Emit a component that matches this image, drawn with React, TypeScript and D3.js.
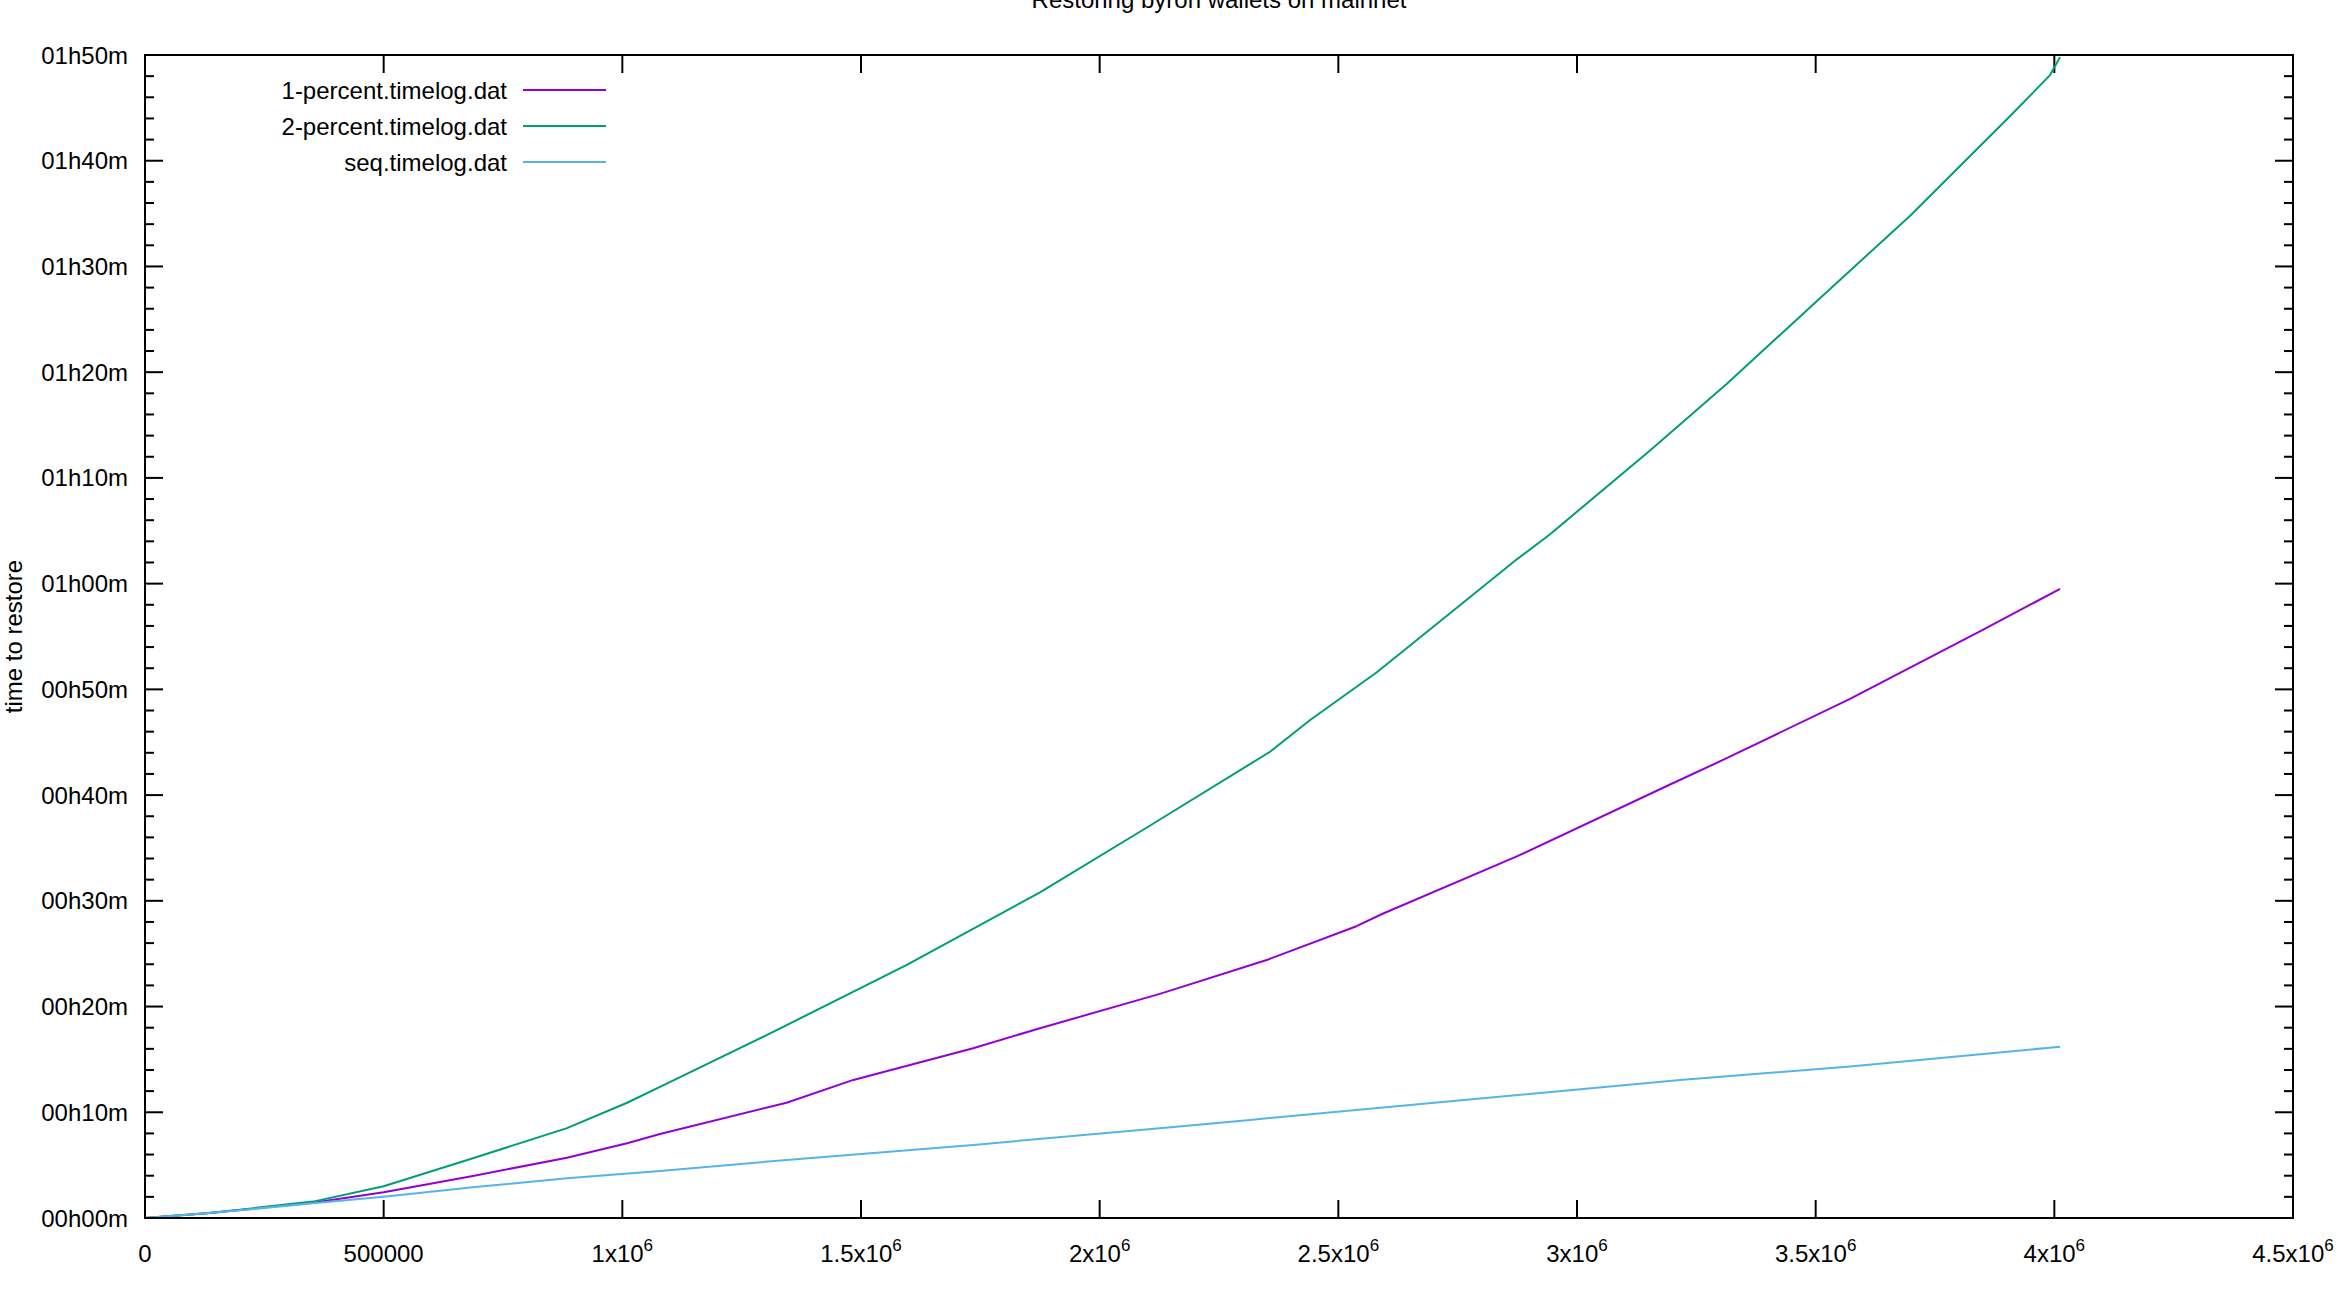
import React from 'react';
import * as d3 from 'd3';

// blocks restored (x) vs elapsed minutes (y)
const onePctX = [0, 129000, 352000, 500000, 687000, 884000, 1010000, 1079000, 1344000, 1484000, 1735000, 1875000, 2126000, 2350000, 2538000, 2594000, 2874000, 3195000, 3307000, 3572000, 3851000, 4012000];
const onePctY = [0, 0.44, 1.45, 2.43, 3.98, 5.7, 7.07, 7.95, 10.9, 13.06, 16.06, 17.95, 21.2, 24.4, 27.6, 28.8, 34.2, 41.0, 43.35, 49.1, 55.66, 59.5];

const twoPctX = [0, 129000, 352000, 500000, 687000, 884000, 1010000, 1079000, 1316000, 1596000, 1875000, 2105000, 2357000, 2441000, 2580000, 2734000, 2874000, 2943000, 3153000, 3314000, 3509000, 3698000, 3907000, 3991000, 4012000];
const twoPctY = [0, 0.44, 1.55, 3.0, 5.65, 8.5, 10.9, 12.4, 17.6, 23.95, 30.8, 37.1, 44.1, 47.1, 51.6, 57.2, 62.3, 64.65, 72.6, 78.9, 87.0, 94.8, 104.2, 108.1, 109.8];

const seqX = [0, 129000, 352000, 500000, 687000, 884000, 1079000, 1344000, 1735000, 2126000, 2315000, 3216000, 3572000, 4012000];
const seqY = [0, 0.44, 1.39, 2.02, 2.9, 3.75, 4.45, 5.49, 6.91, 8.49, 9.28, 13.06, 14.32, 16.2];

const seriesNames = ['1-percent.timelog.dat', '2-percent.timelog.dat', 'seq.timelog.dat'];
const seriesColors = ['#9400d3', '#009e73', '#56b4e9'];

const xTicks = [0, 500000, 1000000, 1500000, 2000000, 2500000, 3000000, 3500000, 4000000, 4500000];
const yTicks = [0, 10, 20, 30, 40, 50, 60, 70, 80, 90, 100, 110];

const W = 2338;
const H = 1290;
const margin = { top: 55, right: 45, bottom: 72, left: 145 };
const FONT = '"Liberation Sans", Arial, Helvetica, sans-serif';
const FS = 24;

const fmtTime = (m: number) => {
  const h = Math.floor(m / 60);
  const mm = m % 60;
  return `${String(h).padStart(2, '0')}h${String(mm).padStart(2, '0')}m`;
};

const XLabel = ({ v }: { v: number }) => {
  if (v < 1e6) return <>{String(v)}</>;
  const mant = v / 1e6;
  return (
    <>
      {`${mant}x10`}
      <tspan dy={-11} fontSize={17}>6</tspan>
    </>
  );
};

export default function App() {
  const x0 = margin.left;
  const x1 = W - margin.right;
  const y0 = H - margin.bottom;
  const y1 = margin.top;

  const x = d3.scaleLinear().domain([0, 4500000]).range([x0, x1]);
  const y = d3.scaleLinear().domain([0, 110]).range([y0, y1]);

  const series = [
    { xs: onePctX, ys: onePctY },
    { xs: twoPctX, ys: twoPctY },
    { xs: seqX, ys: seqY },
  ];

  const line = d3
    .line<[number, number]>()
    .x((d) => x(d[0]))
    .y((d) => y(d[1]));

  const minorY = d3.range(0, 111, 2).filter((m) => m % 10 !== 0);
  const majorLen = 18;
  const minorLen = 9;

  return (
    <svg
      width={W}
      height={H}
      style={{ position: 'absolute', left: 0, top: 0, background: '#fff' }}
      fontFamily={FONT}
      fontSize={FS}
    >
      <rect width={W} height={H} fill="#fff" />

      {/* ticks */}
      <g stroke="#000" strokeWidth={2}>
        {yTicks.map((t) => (
          <g key={`ym${t}`}>
            <line x1={x0} x2={x0 + majorLen} y1={y(t)} y2={y(t)} />
            <line x1={x1} x2={x1 - majorLen} y1={y(t)} y2={y(t)} />
          </g>
        ))}
        {minorY.map((t) => (
          <g key={`yn${t}`}>
            <line x1={x0} x2={x0 + minorLen} y1={y(t)} y2={y(t)} />
            <line x1={x1} x2={x1 - minorLen} y1={y(t)} y2={y(t)} />
          </g>
        ))}
        {xTicks.map((t) => (
          <g key={`xm${t}`}>
            <line x1={x(t)} x2={x(t)} y1={y0} y2={y0 - majorLen} />
            <line x1={x(t)} x2={x(t)} y1={y1} y2={y1 + majorLen} />
          </g>
        ))}
      </g>

      {/* tick labels */}
      {yTicks.map((t) => (
        <text key={`yl${t}`} x={x0 - 17} y={y(t)} textAnchor="end" dominantBaseline="central">
          {fmtTime(t)}
        </text>
      ))}
      {xTicks.map((t) => (
        <text key={`xl${t}`} x={x(t)} y={y0 + 44} textAnchor="middle">
          <XLabel v={t} />
        </text>
      ))}

      {/* series */}
      {series.map((s, i) => (
        <path
          key={seriesNames[i]}
          d={line(s.xs.map((v, j) => [v, s.ys[j]] as [number, number])) || ''}
          fill="none"
          stroke={seriesColors[i]}
          strokeWidth={2}
          strokeLinejoin="round"
        />
      ))}

      {/* border */}
      <rect x={x0} y={y1} width={x1 - x0} height={y0 - y1} fill="none" stroke="#000" strokeWidth={2} />

      {/* legend */}
      {seriesNames.map((n, i) => (
        <g key={`lg${n}`}>
          <text x={507} y={90 + i * 36} textAnchor="end" dominantBaseline="central">
            {n}
          </text>
          <line x1={523} x2={606} y1={90 + i * 36} y2={90 + i * 36} stroke={seriesColors[i]} strokeWidth={2} />
        </g>
      ))}

      {/* titles */}
      <text x={(x0 + x1) / 2} y={8} textAnchor="middle">
        Restoring byron wallets on mainnet
      </text>
      <text transform={`translate(22,${(y0 + y1) / 2}) rotate(-90)`} textAnchor="middle">
        time to restore
      </text>
    </svg>
  );
}
